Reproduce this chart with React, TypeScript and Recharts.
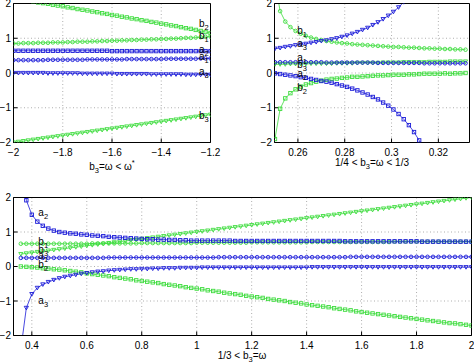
import { LineChart, Line, XAxis, YAxis, CartesianGrid, ReferenceDot } from 'recharts';

const FONT = '"Liberation Sans", Arial, Helvetica, sans-serif';
const BLUE = '#1a1ad8';
const GREEN = '#3ddc3d';

// ---- panel 1 : b3 = w < w*
const tlX = [-2.0, -1.98, -1.96, -1.94, -1.92, -1.9, -1.88, -1.86, -1.84, -1.82, -1.8, -1.78, -1.76, -1.74, -1.72, -1.7, -1.68, -1.66, -1.64, -1.62, -1.6, -1.58, -1.56, -1.54, -1.52, -1.5, -1.48, -1.46, -1.44, -1.42, -1.4, -1.38, -1.36, -1.34, -1.32, -1.3, -1.28, -1.26, -1.24, -1.22, -1.2];
const tlA1 = [0.37, 0.37, 0.37, 0.37, 0.37, 0.37, 0.37, 0.38, 0.38, 0.38, 0.38, 0.38, 0.38, 0.38, 0.38, 0.39, 0.39, 0.39, 0.39, 0.39, 0.39, 0.39, 0.39, 0.4, 0.4, 0.4, 0.4, 0.4, 0.4, 0.4, 0.4, 0.41, 0.41, 0.41, 0.41, 0.41, 0.41, 0.41, 0.42, 0.42, 0.42];
const tlA2 = [0.64, 0.64, 0.64, 0.64, 0.64, 0.64, 0.64, 0.64, 0.64, 0.64, 0.64, 0.64, 0.64, 0.64, 0.64, 0.64, 0.64, 0.64, 0.64, 0.64, 0.63, 0.63, 0.63, 0.63, 0.63, 0.63, 0.63, 0.63, 0.63, 0.63, 0.63, 0.63, 0.63, 0.63, 0.63, 0.63, 0.63, 0.63, 0.63, 0.63, 0.63];
const tlA3 = [0, 0, 0, 0, 0, 0, 0, -0.01, -0.01, -0.01, -0.01, -0.01, -0.01, -0.01, -0.02, -0.02, -0.02, -0.02, -0.02, -0.02, -0.02, -0.03, -0.03, -0.03, -0.03, -0.03, -0.03, -0.03, -0.04, -0.04, -0.04, -0.04, -0.04, -0.04, -0.04, -0.05, -0.05, -0.05, -0.05, -0.05, -0.05];
const tlB1 = [0.85, 0.85, 0.86, 0.86, 0.86, 0.87, 0.87, 0.87, 0.88, 0.88, 0.88, 0.89, 0.89, 0.9, 0.9, 0.9, 0.91, 0.91, 0.92, 0.92, 0.93, 0.93, 0.94, 0.94, 0.95, 0.95, 0.96, 0.96, 0.97, 0.97, 0.98, 0.98, 0.99, 0.99, 1.0, 1.01, 1.01, 1.02, 1.03, 1.04, 1.05];
const tlB2 = [2.15, 2.13, 2.1, 2.08, 2.06, 2.03, 2.01, 1.99, 1.96, 1.94, 1.92, 1.89, 1.87, 1.84, 1.82, 1.8, 1.77, 1.75, 1.72, 1.7, 1.67, 1.65, 1.62, 1.6, 1.57, 1.55, 1.52, 1.5, 1.47, 1.45, 1.42, 1.4, 1.37, 1.35, 1.32, 1.29, 1.27, 1.24, 1.21, 1.18, 1.15];
const tlB3 = [-2.0, -1.98, -1.96, -1.94, -1.92, -1.9, -1.88, -1.86, -1.84, -1.82, -1.8, -1.78, -1.76, -1.74, -1.72, -1.7, -1.68, -1.66, -1.64, -1.62, -1.6, -1.58, -1.56, -1.54, -1.52, -1.5, -1.48, -1.46, -1.44, -1.42, -1.4, -1.38, -1.36, -1.34, -1.32, -1.3, -1.28, -1.26, -1.24, -1.22, -1.2];
const tlTicks = [-2, -1.8, -1.6, -1.4, -1.2];

// ---- panel 2 : 1/4 < b3 = w < 1/3
const trX = [0.2502, 0.2524, 0.2546, 0.2568, 0.259, 0.2612, 0.2634, 0.2656, 0.2678, 0.27, 0.2722, 0.2744, 0.2766, 0.2788, 0.281, 0.2832, 0.2854, 0.2876, 0.2898, 0.292, 0.2942, 0.2964, 0.2986, 0.3008, 0.303, 0.3052, 0.3074, 0.3096, 0.3118, 0.314, 0.3162, 0.3184, 0.3206, 0.3228, 0.325, 0.3272, 0.3294, 0.3316];
const trA1 = [0.31, 0.31, 0.31, 0.31, 0.31, 0.31, 0.31, 0.31, 0.31, 0.31, 0.3, 0.3, 0.3, 0.3, 0.3, 0.3, 0.3, 0.3, 0.3, 0.3, 0.29, 0.29, 0.29, 0.29, 0.29, 0.29, 0.29, 0.29, 0.29, 0.28, 0.28, 0.28, 0.28, 0.28, 0.28, 0.28, 0.28, 0.28];
const trA2 = [-0.01, -0.03, -0.05, -0.07, -0.09, -0.12, -0.14, -0.17, -0.2, -0.23, -0.25, -0.28, -0.32, -0.36, -0.4, -0.45, -0.5, -0.56, -0.62, -0.69, -0.76, -0.85, -0.94, -1.05, -1.18, -1.33, -1.5, -1.7, -1.94, -2.23, -2.61, null, null, null, null, null, null, null];
const trA3 = [0.7, 0.72, 0.75, 0.77, 0.8, 0.82, 0.84, 0.87, 0.89, 0.92, 0.94, 0.97, 1.0, 1.04, 1.08, 1.13, 1.18, 1.24, 1.3, 1.38, 1.46, 1.55, 1.65, 1.76, 1.89, 2.04, 2.21, null, null, null, null, null, null, null, null, null, null, null];
const trB1 = [2.65, 1.78, 1.48, 1.32, 1.21, 1.13, 1.07, 1.02, 0.98, 0.95, 0.92, 0.9, 0.88, 0.86, 0.85, 0.83, 0.82, 0.81, 0.8, 0.79, 0.78, 0.77, 0.76, 0.75, 0.75, 0.74, 0.73, 0.73, 0.72, 0.71, 0.71, 0.7, 0.7, 0.69, 0.69, 0.68, 0.68, 0.67];
const trB2 = [-1.9, -1.03, -0.73, -0.58, -0.47, -0.39, -0.33, -0.29, -0.25, -0.22, -0.19, -0.17, -0.16, -0.14, -0.13, -0.11, -0.11, -0.1, -0.09, -0.08, -0.07, -0.07, -0.06, -0.05, -0.05, -0.05, -0.04, -0.04, -0.03, -0.02, -0.02, -0.02, -0.02, -0.01, -0.02, -0.01, -0.01, 0.0];
const trB3 = [0.25, 0.25, 0.25, 0.26, 0.26, 0.26, 0.26, 0.27, 0.27, 0.27, 0.27, 0.27, 0.28, 0.28, 0.28, 0.28, 0.29, 0.29, 0.29, 0.29, 0.29, 0.3, 0.3, 0.3, 0.3, 0.31, 0.31, 0.31, 0.31, 0.31, 0.32, 0.32, 0.32, 0.32, 0.33, 0.33, 0.33, 0.33];
const trTicks = [0.26, 0.28, 0.3, 0.32];

// ---- panel 3 : 1/3 < b3 = w
const btX = [0.36, 0.38, 0.4, 0.42, 0.44, 0.46, 0.48, 0.5, 0.52, 0.54, 0.56, 0.58, 0.6, 0.62, 0.64, 0.66, 0.68, 0.7, 0.72, 0.74, 0.76, 0.78, 0.8, 0.82, 0.84, 0.86, 0.88, 0.9, 0.92, 0.94, 0.96, 0.98, 1.0, 1.02, 1.04, 1.06, 1.08, 1.1, 1.12, 1.14, 1.16, 1.18, 1.2, 1.22, 1.24, 1.26, 1.28, 1.3, 1.32, 1.34, 1.36, 1.38, 1.4, 1.42, 1.44, 1.46, 1.48, 1.5, 1.52, 1.54, 1.56, 1.58, 1.6, 1.62, 1.64, 1.66, 1.68, 1.7, 1.72, 1.74, 1.76, 1.78, 1.8, 1.82, 1.84, 1.86, 1.88, 1.9, 1.92, 1.94, 1.96, 1.98, 2.0];
const btA1 = [0.25, 0.25, 0.25, 0.25, 0.25, 0.25, 0.25, 0.25, 0.25, 0.25, 0.25, 0.25, 0.25, 0.25, 0.25, 0.25, 0.26, 0.26, 0.26, 0.26, 0.26, 0.26, 0.26, 0.26, 0.26, 0.26, 0.26, 0.26, 0.26, 0.26, 0.26, 0.26, 0.26, 0.26, 0.26, 0.26, 0.27, 0.27, 0.27, 0.27, 0.27, 0.27, 0.27, 0.27, 0.27, 0.27, 0.27, 0.27, 0.27, 0.27, 0.27, 0.27, 0.27, 0.27, 0.27, 0.27, 0.27, 0.27, 0.27, 0.27, 0.28, 0.28, 0.28, 0.28, 0.28, 0.28, 0.28, 0.28, 0.28, 0.28, 0.28, 0.28, 0.28, 0.28, 0.28, 0.28, 0.28, 0.28, 0.28, 0.28, 0.28, 0.28, 0.28];
const btA2 = [2.9, 1.92, 1.5, 1.3, 1.18, 1.1, 1.04, 1.0, 0.98, 0.96, 0.95, 0.93, 0.92, 0.9, 0.89, 0.88, 0.86, 0.85, 0.84, 0.83, 0.82, 0.81, 0.8, 0.79, 0.79, 0.78, 0.78, 0.77, 0.77, 0.76, 0.76, 0.75, 0.75, 0.75, 0.75, 0.75, 0.75, 0.75, 0.75, 0.74, 0.74, 0.74, 0.74, 0.74, 0.74, 0.74, 0.74, 0.74, 0.74, 0.74, 0.74, 0.74, 0.74, 0.74, 0.74, 0.74, 0.74, 0.74, 0.74, 0.73, 0.73, 0.73, 0.73, 0.73, 0.73, 0.73, 0.73, 0.73, 0.73, 0.73, 0.73, 0.73, 0.73, 0.72, 0.72, 0.72, 0.72, 0.72, 0.72, 0.72, 0.72, 0.72, 0.72];
const btA3 = [-2.4, -1.2, -0.8, -0.62, -0.52, -0.45, -0.39, -0.34, -0.3, -0.27, -0.24, -0.21, -0.19, -0.17, -0.15, -0.14, -0.12, -0.11, -0.1, -0.09, -0.08, -0.08, -0.07, -0.07, -0.06, -0.06, -0.05, -0.05, -0.05, -0.04, -0.04, -0.04, -0.04, -0.03, -0.03, -0.03, -0.03, -0.03, -0.03, -0.03, -0.03, -0.03, -0.03, -0.03, -0.03, -0.03, -0.03, -0.03, -0.03, -0.03, -0.03, -0.03, -0.03, -0.02, -0.02, -0.02, -0.02, -0.02, -0.02, -0.02, -0.02, -0.02, -0.02, -0.02, -0.02, -0.02, -0.02, -0.02, -0.02, -0.02, -0.02, -0.02, -0.02, -0.02, -0.02, -0.02, -0.02, -0.02, -0.02, -0.02, -0.02, -0.02, -0.02];
const btB1 = [0.66, 0.66, 0.66, 0.66, 0.66, 0.66, 0.66, 0.66, 0.66, 0.66, 0.66, 0.66, 0.66, 0.67, 0.67, 0.67, 0.67, 0.67, 0.67, 0.67, 0.67, 0.67, 0.68, 0.68, 0.68, 0.68, 0.68, 0.68, 0.68, 0.68, 0.68, 0.68, 0.69, 0.69, 0.69, 0.69, 0.69, 0.69, 0.69, 0.69, 0.69, 0.69, 0.7, 0.7, 0.7, 0.7, 0.7, 0.7, 0.7, 0.7, 0.7, 0.7, 0.7, 0.71, 0.71, 0.71, 0.71, 0.71, 0.71, 0.71, 0.71, 0.71, 0.71, 0.71, 0.71, 0.71, 0.71, 0.71, 0.72, 0.72, 0.72, 0.72, 0.72, 0.72, 0.72, 0.72, 0.72, 0.72, 0.72, 0.72, 0.72, 0.72, 0.72];
const btB2 = [0.0, -0.01, -0.02, -0.03, -0.05, -0.06, -0.08, -0.09, -0.11, -0.13, -0.15, -0.17, -0.2, -0.22, -0.24, -0.26, -0.28, -0.31, -0.33, -0.35, -0.37, -0.4, -0.42, -0.44, -0.46, -0.48, -0.51, -0.53, -0.55, -0.57, -0.6, -0.62, -0.64, -0.66, -0.69, -0.71, -0.73, -0.76, -0.78, -0.8, -0.82, -0.85, -0.87, -0.89, -0.91, -0.94, -0.96, -0.98, -1.0, -1.03, -1.05, -1.07, -1.1, -1.12, -1.14, -1.16, -1.18, -1.21, -1.23, -1.25, -1.27, -1.3, -1.32, -1.34, -1.36, -1.38, -1.4, -1.42, -1.44, -1.46, -1.48, -1.5, -1.52, -1.54, -1.56, -1.58, -1.6, -1.62, -1.64, -1.65, -1.67, -1.69, -1.71];
const btB3 = [0.36, 0.38, 0.4, 0.42, 0.44, 0.46, 0.48, 0.5, 0.52, 0.54, 0.56, 0.58, 0.6, 0.62, 0.64, 0.66, 0.68, 0.7, 0.72, 0.74, 0.76, 0.78, 0.8, 0.82, 0.84, 0.86, 0.88, 0.9, 0.92, 0.94, 0.96, 0.98, 1.0, 1.02, 1.04, 1.06, 1.08, 1.1, 1.12, 1.14, 1.16, 1.18, 1.2, 1.22, 1.24, 1.26, 1.28, 1.3, 1.32, 1.34, 1.36, 1.38, 1.4, 1.42, 1.44, 1.46, 1.48, 1.5, 1.52, 1.54, 1.56, 1.58, 1.6, 1.62, 1.64, 1.66, 1.68, 1.7, 1.72, 1.74, 1.76, 1.78, 1.8, 1.82, 1.84, 1.86, 1.88, 1.9, 1.92, 1.94, 1.96, 1.98, 2.0];
const btTicks = [0.4, 0.6, 0.8, 1, 1.2, 1.4, 1.6, 1.8, 2];

const yTicks = [-2, -1, 0, 1, 2];

// curve labels: [letter, index, x, y]
const tlNotes: [string, string, number, number][] = [
  ['b', '2', -1.247, 1.32], ['b', '1', -1.247, 0.97], ['a', '2', -1.247, 0.58],
  ['a', '1', -1.247, 0.37], ['a', '3', -1.247, -0.07], ['b', '3', -1.247, -1.33],
];
const trNotes: [string, string, number, number][] = [
  ['b', '1', 0.2597, 1.12], ['a', '3', 0.2597, 0.76], ['a', '1', 0.2597, 0.35],
  ['b', '3', 0.2597, 0.14], ['a', '2', 0.2597, -0.12], ['b', '2', 0.2597, -0.52],
];
const btNotes: [string, string, number, number][] = [
  ['a', '2', 0.4236, 1.47], ['b', '1', 0.4236, 0.62], ['b', '3', 0.4236, 0.38],
  ['a', '1', 0.4236, 0.22], ['b', '2', 0.4236, -0.05], ['a', '3', 0.4236, -1.1],
];

type Kind = 'o' | 's' | 'v';
const seriesDefs: { key: string; kind: Kind; color: string }[] = [
  { key: 'b1', kind: 'o', color: GREEN },
  { key: 'b2', kind: 's', color: GREEN },
  { key: 'b3', kind: 'v', color: GREEN },
  { key: 'a1', kind: 'o', color: BLUE },
  { key: 'a2', kind: 's', color: BLUE },
  { key: 'a3', kind: 'v', color: BLUE },
];

function buildRows(xs: number[], a1: (number | null)[], a2: (number | null)[], a3: (number | null)[], b1: (number | null)[], b2: (number | null)[], b3: (number | null)[]) {
  return xs.map((x, i) => ({ x, a1: a1[i], a2: a2[i], a3: a3[i], b1: b1[i], b2: b2[i], b3: b3[i] }));
}

const minus = (v: number) => String(v).replace('-', '\u2212');

function marker(kind: Kind, color: string) {
  return (props: any) => {
    const { cx, cy, index } = props;
    const k = `m-${index}`;
    if (cx == null || cy == null || Number.isNaN(cy)) return <g key={k} />;
    if (kind === 'o') {
      return <circle key={k} cx={cx} cy={cy} r={1.8} fill="none" stroke={color} strokeWidth={0.9} />;
    }
    if (kind === 's') {
      return <rect key={k} x={cx - 1.7} y={cy - 1.7} width={3.4} height={3.4} fill="none" stroke={color} strokeWidth={0.9} />;
    }
    return (
      <path key={k} d={`M${cx - 2.1},${cy - 1.6}L${cx + 2.1},${cy - 1.6}L${cx},${cy + 2}Z`} fill="none" stroke={color} strokeWidth={0.9} />
    );
  };
}

function SubLabel(props: any) {
  const { cx, cy, letter, idx } = props;
  return (
    <text x={cx} y={cy} fontSize={10} fontFamily={FONT} fill="#000">
      {letter}
      <tspan dy={3} fontSize={7.5}>{idx}</tspan>
    </text>
  );
}

interface PanelProps {
  left: number;
  top: number;
  width: number;
  height: number;
  plotLeft: number;
  plotRight: number;
  plotTop: number;
  plotBottom: number;
  data: ReturnType<typeof buildRows>;
  xDomain: [number, number];
  xTicks: number[];
  notes: [string, string, number, number][];
}

function Panel({ left, top, width, height, plotLeft, plotRight, plotTop, plotBottom, data, xDomain, xTicks, notes }: PanelProps) {
  const tickStyle = { fontSize: 10, fill: '#000', fontFamily: FONT };
  return (
    <div style={{ position: 'absolute', left, top }}>
      <LineChart
        width={width}
        height={height}
        data={data}
        margin={{ top: plotTop - 1, right: width - plotRight - 1, bottom: 0, left: 0 }}
      >
        <CartesianGrid xAxisId="b" yAxisId="l" stroke="#9a9a9a" strokeDasharray="1 2.5" strokeWidth={0.8} />
        <XAxis
          xAxisId="b"
          dataKey="x"
          type="number"
          domain={xDomain}
          allowDataOverflow
          ticks={xTicks}
          interval={0}
          height={height - plotBottom}
          tickSize={-4}
          tickMargin={10}
          tick={tickStyle}
          tickFormatter={minus}
          stroke="#000"
        />
        <XAxis
          xAxisId="t"
          orientation="top"
          type="number"
          domain={xDomain}
          allowDataOverflow
          ticks={xTicks}
          interval={0}
          height={1}
          tickSize={-4}
          tick={false}
          stroke="#000"
        />
        <YAxis
          yAxisId="l"
          type="number"
          domain={[-2, 2]}
          allowDataOverflow
          ticks={yTicks}
          interval={0}
          width={plotLeft}
          tickSize={-4}
          tickMargin={6.5}
          tick={tickStyle}
          tickFormatter={minus}
          stroke="#000"
        />
        <YAxis
          yAxisId="r"
          orientation="right"
          type="number"
          domain={[-2, 2]}
          allowDataOverflow
          ticks={yTicks}
          interval={0}
          width={1}
          tickSize={-4}
          tick={false}
          stroke="#000"
        />
        {seriesDefs.map((s) => (
          <Line
            key={s.key}
            xAxisId="b"
            yAxisId="l"
            type="linear"
            dataKey={s.key}
            stroke={s.color}
            strokeWidth={0.8}
            dot={marker(s.kind, s.color)}
            activeDot={false}
            isAnimationActive={false}
          />
        ))}
        {notes.map(([letter, idx, x, y]) => (
          <ReferenceDot
            key={letter + idx}
            xAxisId="b"
            yAxisId="l"
            x={x}
            y={y}
            r={0}
            shape={(p: any) => <SubLabel {...p} letter={letter} idx={idx} />}
          />
        ))}
      </LineChart>
    </div>
  );
}

export default function App() {
  const tlRows = buildRows(tlX, tlA1, tlA2, tlA3, tlB1, tlB2, tlB3);
  const trRows = buildRows(trX, trA1, trA2, trA3, trB1, trB2, trB3);
  const btRows = buildRows(btX, btA1, btA2, btA3, btB1, btB2, btB3);

  return (
    <div style={{ position: 'absolute', left: 0, top: 0, width: 474, height: 364, background: '#fff', overflow: 'hidden' }}>
      <Panel left={0} top={0} width={240} height={165} plotLeft={13.5} plotRight={210.5} plotTop={3.5} plotBottom={142.5}
        data={tlRows} xDomain={[-2, -1.2]} xTicks={tlTicks} notes={tlNotes} />
      <Panel left={240} top={0} width={234} height={165} plotLeft={34.5} plotRight={229.5} plotTop={3.5} plotBottom={142.5}
        data={trRows} xDomain={[0.25, 0.3333]} xTicks={trTicks} notes={trNotes} />
      <Panel left={0} top={180} width={474} height={184} plotLeft={13.5} plotRight={471.5} plotTop={17.5} plotBottom={155.5}
        data={btRows} xDomain={[0.3333, 2]} xTicks={btTicks} notes={btNotes} />
      <svg width={474} height={364} style={{ position: 'absolute', left: 0, top: 0, pointerEvents: 'none' }}>
        <text x={112} y={169.5} fontSize={10} fontFamily={FONT} textAnchor="middle" fill="#000">
          b<tspan dy={3} fontSize={7.5}>3</tspan>
          <tspan dy={-3}>=ω &lt; ω</tspan>
          <tspan dy={-5} fontSize={7.5}>*</tspan>
        </text>
        <text x={372} y={165.5} fontSize={10} fontFamily={FONT} textAnchor="middle" fill="#000">
          1/4 &lt; b<tspan dy={3} fontSize={7.5}>3</tspan>
          <tspan dy={-3}>=ω &lt; 1/3</tspan>
        </text>
        <text x={242} y={358.5} fontSize={10} fontFamily={FONT} textAnchor="middle" fill="#000">
          1/3 &lt; b<tspan dy={3} fontSize={7.5}>3</tspan>
          <tspan dy={-3}>=ω</tspan>
        </text>
      </svg>
    </div>
  );
}
